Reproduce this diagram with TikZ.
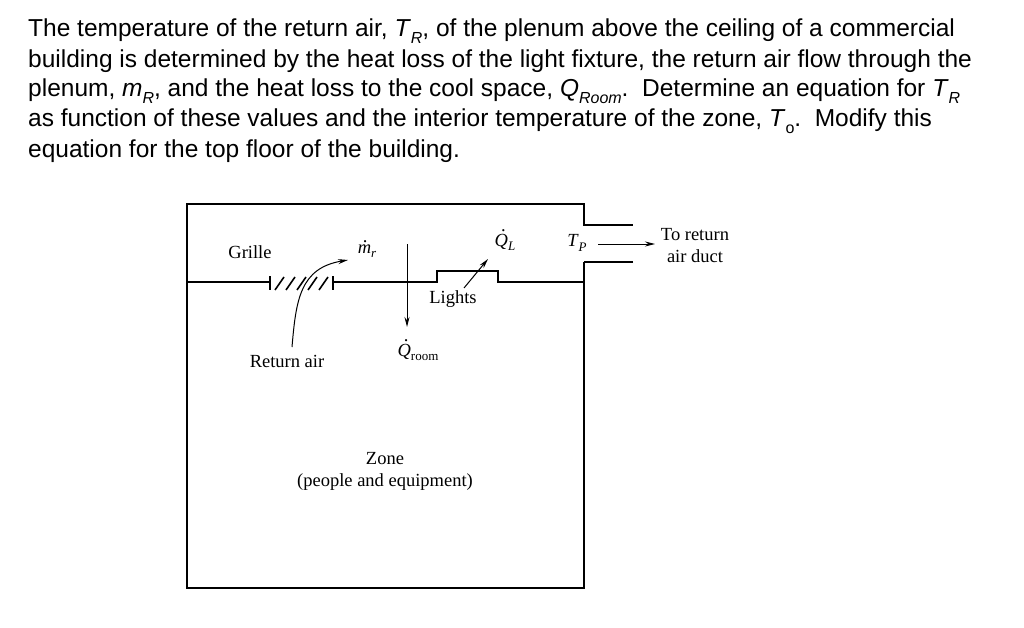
\documentclass[tikz,border=0pt]{standalone}
\usepackage{fontspec}
\setmainfont{Liberation Sans}
\newfontfamily\ser{Liberation Serif}
\usetikzlibrary{arrows.meta}
\newcommand{\sbs}[1]{\raisebox{-0.3em}{\fontsize{16}{16}\selectfont #1}}
\newcommand{\dsub}[1]{\raisebox{-0.25em}{\fontsize{13}{13}\selectfont #1}}
\newcommand{\dotit}[3]{\makebox[0pt][l]{\hspace{#1}\raisebox{#2}{.}}\textit{#3}}
\begin{document}
\begin{tikzpicture}[x=1pt,y=-1pt,
  hd/.style={anchor=west,font=\fontsize{24.5}{26}\selectfont,inner sep=0},
  lb/.style={font=\ser\fontsize{18.5}{22}\selectfont,inner sep=0,align=center},
  ln/.style={line width=1.1pt},
  ar/.style={line width=1pt,-{Stealth[length=10pt,width=5pt]}}]
\useasboundingbox (0,0) rectangle (1024,628);
\node[hd] (h1) at (28,31) {The temperature of the return air, \textit{T}\sbs{\textit{R}}, of the plenum above the ceiling of a commercial};
\node[hd] (h2) at (28,61) {building is determined by the heat loss of the light fixture, the return air flow through the};
\node[hd] (h3) at (28,91) {plenum, \textit{m}\sbs{\textit{R}}, and the heat loss to the cool space, \textit{Q}\sbs{\textit{Room}}.\ \ Determine an equation for \textit{T}\sbs{\textit{R}}};
\node[hd] (h4) at (28,121) {as function of these values and the interior temperature of the zone, \textit{T}\sbs{o}.\ \ Modify this};
\node[hd] (h5) at (28,151) {equation for the top floor of the building.};
% walls
\draw[ln] (584,262) -- (584,588) -- (187,588) -- (187,204) -- (584,204) -- (584,225) -- (633,225);
\draw[ln] (633,262) -- (584,262);
% ceiling
\draw[ln] (187,282) -- (270,282);
\draw[ln] (270,276) -- (270,290);
\draw[ln] (333,276) -- (333,290);
\foreach \x in {275,286,297,308,319} \draw[line width=1.6pt] (\x,290) -- (\x+9,277);
\draw[ln] (333,282) -- (437,282) -- (437,271) -- (498,271) -- (498,282) -- (584,282);
% arrows
\coordinate (ra) at (292,347);
\coordinate (mr) at (348,260);
\draw[ar] (ra) .. controls (296,300) and (300,268) .. (mr);
\coordinate (q1) at (407,244); \coordinate (q2) at (407,327);
\draw[ar] (q1) -- (q2);
\coordinate (l1) at (464,288); \coordinate (l2) at (488,259);
\draw[ar] (l1) -- (l2);
\coordinate (t1) at (598,244); \coordinate (t2) at (655,244);
\draw[ar] (t1) -- (t2);
% labels
\node[lb] (g) at (250,252) {Grille};
\node[lb] (rat) at (287,361) {Return air};
\node[lb] (mrl) at (367,249) {\dotit{0.28em}{0.6em}{m}\dsub{\textit{r}}};
\node[lb] (lt) at (453,299) {Lights};
\node[lb] (qr) at (418,350) {\dotit{0.34em}{0.82em}{Q}\dsub{room}};
\node[lb] (ql) at (505,240) {\dotit{0.34em}{0.82em}{Q}\dsub{\textit{L}}};
\node[lb] (tp) at (577,243) {\textit{T}\dsub{\textit{P}}};
\node[lb] (to) at (695,246) {To return\\air duct};
\node[lb] (z) at (385,471) {Zone\\(people and equipment)};
\end{tikzpicture}
\end{document}
